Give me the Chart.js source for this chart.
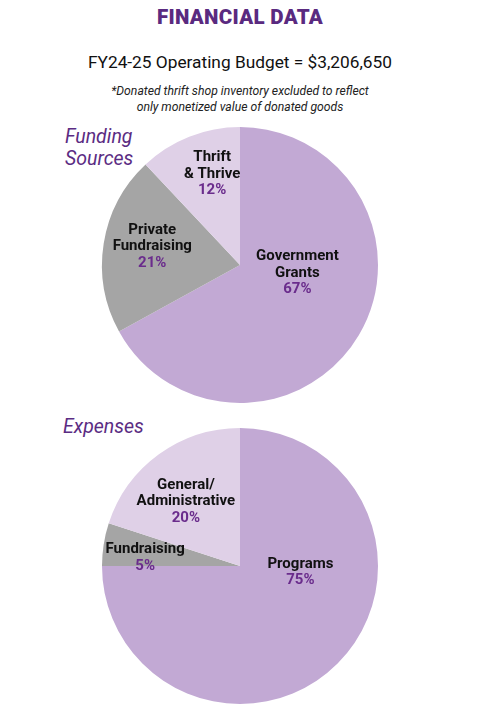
<!DOCTYPE html>
<html>
<head>
<meta charset="utf-8">
<script src="https://cdn.jsdelivr.net/npm/chart.js@4.4.1/dist/chart.umd.min.js"></script>
<style>
    html, body { margin: 0; padding: 0; background: #fff; overflow: hidden; }
    body { width: 480px; height: 705px; position: relative; font-family: Roboto, sans-serif; }
    .title { position: absolute; top: 5px; width: 480px; text-align: center; font-size: 20.5px; font-weight: 900; color: #5a2a80; letter-spacing: 0.3px; }
    .budget { position: absolute; top: 52px; width: 480px; text-align: center; font-size: 17.3px; color: #111; }
    .note { position: absolute; top: 83px; width: 480px; text-align: center; font-size: 12.2px; font-style: italic; color: #222; line-height: 16px; }
    .section { position: absolute; font-size: 19.5px; font-style: italic; color: #5b2c83; line-height: 22px; }
    canvas { position: absolute; }
</style>
</head>
<body>
<div class="title">FINANCIAL DATA</div>
<div class="budget">FY24-25 Operating Budget = $3,206,650</div>
<div class="note">*Donated thrift shop inventory excluded to reflect<br>only monetized value of donated goods</div>
<div class="section" style="left:65px; top:126px;">Funding<br>Sources</div>
<div class="section" style="left:63px; top:416px;">Expenses</div>
<canvas id="fundingChart" width="300" height="300" style="left:90px; top:115px;"></canvas>
<canvas id="expenseChart" width="300" height="300" style="left:90px; top:416px;"></canvas>
<script>
const fundingLabels = [['Government', 'Grants'], ['Private', 'Fundraising'], ['Thrift', '& Thrive']];
const fundingValues = [67, 21, 12];

const expenseLabels = [['Programs'], ['Fundraising'], ['General/', 'Administrative']];
const expenseValues = [75, 5, 20];

const sliceColors = ['#c2a9d4', '#a5a5a5', '#dfd0e7'];

// label anchor per slice: angle clockwise from 12 o'clock (deg), distance as share of radius
const fundingLabelPos = [{ a: 98, r: 0.42 }, { a: -78, r: 0.65 }, { a: -17, r: 0.69 }];
const expenseLabelPos = [{ a: 96, r: 0.44 }, { a: -85, r: 0.69 }, { a: -40, r: 0.61 }];

const sliceLabels = {
    id: 'sliceLabels',
    afterDatasetsDraw(chart, args, opts) {
        const ctx = chart.ctx;
        const meta = chart.getDatasetMeta(0);
        const values = chart.data.datasets[0].data;
        const total = values.reduce((a, b) => a + b, 0);
        meta.data.forEach((arc, i) => {
            const p = opts.pos[i];
            const ang = p.a * Math.PI / 180;
            const x = arc.x + Math.sin(ang) * arc.outerRadius * p.r;
            const y = arc.y - Math.cos(ang) * arc.outerRadius * p.r;
            const lines = chart.data.labels[i];
            const lh = 16.5;
            const n = lines.length + 1;
            let top = y - (n - 1) * lh / 2;
            ctx.save();
            ctx.textAlign = 'center';
            ctx.textBaseline = 'middle';
            ctx.font = 'bold 15px Roboto';
            ctx.fillStyle = '#111';
            lines.forEach((line, j) => ctx.fillText(line, x, top + j * lh));
            ctx.fillStyle = '#6a2c8c';
            ctx.fillText(Math.round(values[i] / total * 100) + '%', x, top + lines.length * lh);
            ctx.restore();
        });
    }
};

function makePie(id, labels, values, pos) {
    return new Chart(document.getElementById(id).getContext('2d'), {
        type: 'pie',
        data: {
            labels: labels,
            datasets: [{
                data: values,
                backgroundColor: sliceColors,
                borderWidth: 0
            }]
        },
        options: {
            responsive: false,
            animation: false,
            layout: { padding: 12 },
            plugins: {
                legend: { display: false },
                tooltip: { enabled: false },
                sliceLabels: { pos: pos }
            }
        },
        plugins: [sliceLabels]
    });
}

makePie('fundingChart', fundingLabels, fundingValues, fundingLabelPos);
makePie('expenseChart', expenseLabels, expenseValues, expenseLabelPos);
</script>
</body>
</html>
